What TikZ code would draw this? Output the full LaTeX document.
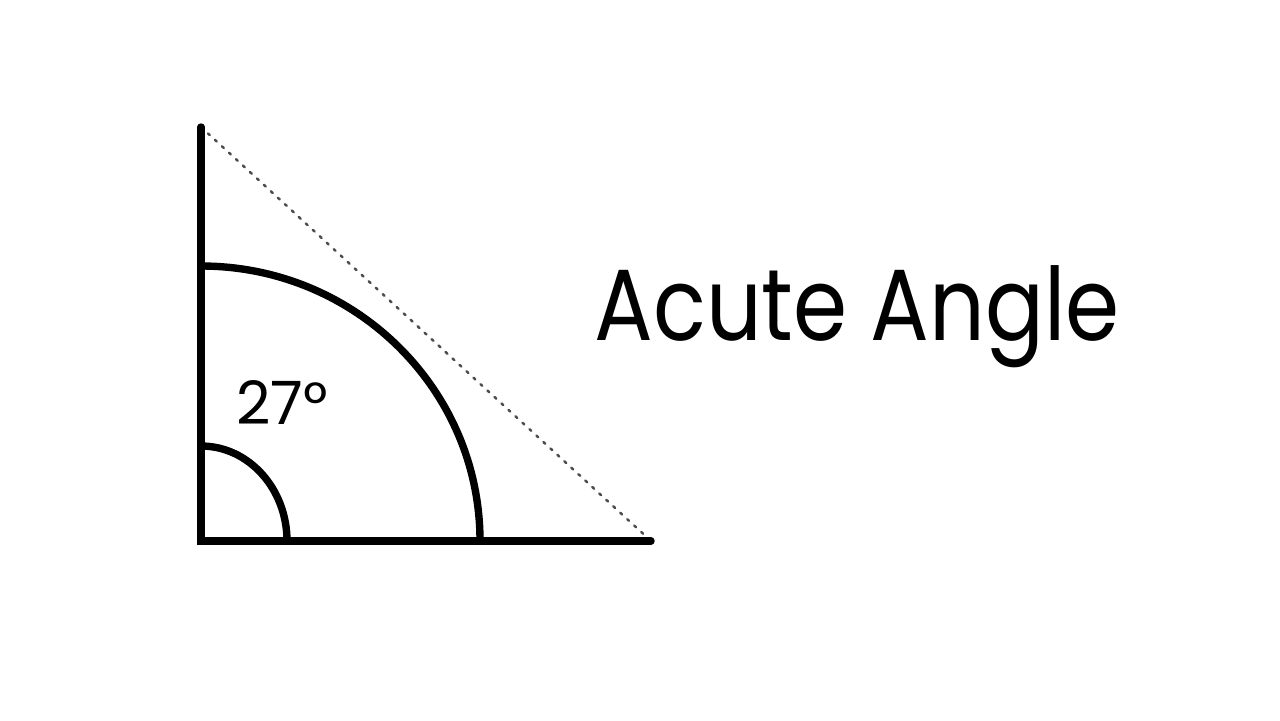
\documentclass[tikz,border=0pt]{standalone}
\usepackage{fontspec}
\setmainfont{Poppins}
\newfontfamily\titlefont[FakeStretch=0.86]{Poppins}

\begin{document}
\begin{tikzpicture}[x=0.01cm,y=0.01cm,line cap=round,side/.style={line width=2.1pt,black},guide/.style={dotted,line width=0.7pt,gray!60!black},label node/.style={font=\fontsize{17}{20}\selectfont,inner sep=0}]
            \useasboundingbox (0,0) rectangle (1280,720);
            \coordinate (O) at (201,179);
            \coordinate (T) at (201,593);
            \coordinate (E) at (651,179);
            \coordinate (s) at (201,274);
            \coordinate (b) at (201,454);

            \draw[guide] (T) -- (E);
            \draw[side] (T) -- (O) -- (E);
            \draw[side] (s) arc[start angle=90,end angle=0,x radius=86,y radius=95];
            \draw[side] (b) arc[start angle=90,end angle=0,x radius=279,y radius=275];

            \node[label node] (deg) at (282,318) {27°};
            \node[inner sep=0,font=\titlefont\fontsize{28.8}{34}\selectfont] (title) at (857,403) {Acute Angle};
        \end{tikzpicture}
\end{document}
